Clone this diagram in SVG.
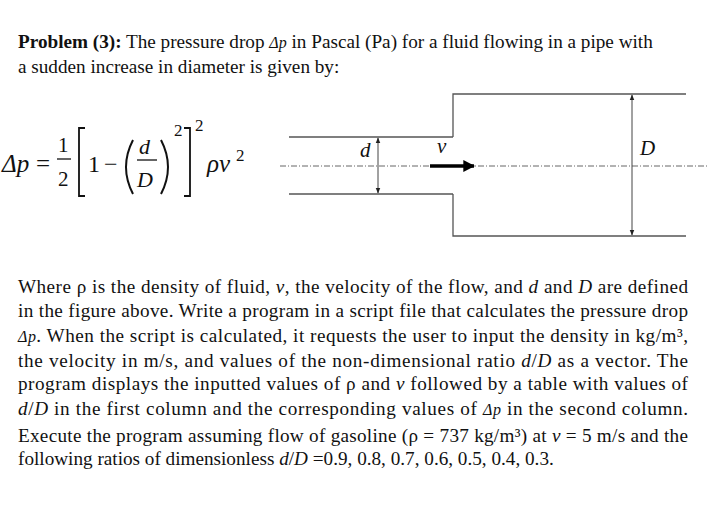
<svg xmlns="http://www.w3.org/2000/svg" width="708" height="505" viewBox="0 0 708 505">
<style>
.t{font-family:"Liberation Serif",serif;font-size:19.2px;fill:#111}
.m{font-family:"Liberation Serif",serif;font-style:italic;fill:#111}
.f{font-family:"Liberation Serif",serif;fill:#111}
.p{stroke:#555;stroke-width:1.3;fill:none}
</style>
<defs>
<marker id="ah" viewBox="0 0 10 10" refX="9" refY="5" markerWidth="6" markerHeight="6" orient="auto-start-reverse"><path d="M0,1 L10,5 L0,9 Z" fill="#222"/></marker>
<marker id="bh" viewBox="0 0 10 10" refX="9" refY="5" markerWidth="3.4" markerHeight="3.4" orient="auto"><path d="M0,0 L10,5 L0,10 Z" fill="#000"/></marker>
</defs>
<g id="title">
<text class="t" x="18" y="48"><tspan font-weight="bold">Problem (3):</tspan> The pressure drop <tspan font-style="italic" font-size="16">Δp</tspan> in Pascal (Pa) for a fluid flowing in a pipe with</text>
<text class="t" x="18" y="73">a sudden increase in diameter is given by:</text>
</g>
<g id="formula">
<text class="m" x="2" y="172" font-size="25">Δp</text>
<text class="f" x="36" y="172" font-size="25">=</text>
<text class="f" x="58" y="152" font-size="21">1</text>
<line x1="57" y1="159" x2="71" y2="159" stroke="#111" stroke-width="1.3"/>
<text class="f" x="58" y="186" font-size="21">2</text>
<path d="M85,128 H79 V196 H85" stroke="#111" stroke-width="1.8" fill="none"/>
<text class="f" x="88" y="172" font-size="24">1</text>
<text class="f" x="104" y="172" font-size="24">−</text>
<path d="M133,140 Q119,167 133,194" stroke="#111" stroke-width="2" fill="none"/>
<text class="m" x="139" y="154" font-size="22">d</text>
<line x1="137" y1="160" x2="157" y2="160" stroke="#111" stroke-width="1.3"/>
<text class="m" x="137" y="187" font-size="22">D</text>
<path d="M161,140 Q175,167 161,194" stroke="#111" stroke-width="2" fill="none"/>
<text class="f" x="174" y="136" font-size="17">2</text>
<path d="M184,128 H190 V196 H184" stroke="#111" stroke-width="1.8" fill="none"/>
<text class="f" x="195" y="131" font-size="17">2</text>
<text class="m" x="207" y="172" font-size="25">ρv</text>
<text class="f" x="236" y="161" font-size="17">2</text>
</g>
<g id="pipe">
<line class="p" x1="289" y1="137" x2="453" y2="137" stroke="#222"/>
<line class="p" x1="289" y1="194" x2="453" y2="194"/>
<path class="p" d="M453,137 V94 H686"/>
<path class="p" d="M453,194 V236 H686"/>
<line x1="280" y1="166" x2="708" y2="166" stroke="#666" stroke-width="1" stroke-dasharray="6,2,1,2"/>
</g>
<g id="connectors">
<line x1="378" y1="138" x2="378" y2="193" stroke="#444" stroke-width="1" marker-start="url(#ah)" marker-end="url(#ah)"/>
<line x1="632" y1="95" x2="632" y2="235" stroke="#444" stroke-width="1" marker-start="url(#ah)" marker-end="url(#ah)"/>
<line x1="430" y1="166" x2="474" y2="166" stroke="#000" stroke-width="3.5" marker-end="url(#bh)"/>
</g>
<g id="labels">
<text class="m" x="360" y="157" font-size="21">d</text>
<text class="m" x="437" y="153" font-size="21">v</text>
<text class="m" x="640" y="155" font-size="21">D</text>
</g>
<g id="body">
<text class="t" x="18" y="293" textLength="670" lengthAdjust="spacing">Where ρ is the density of fluid, <tspan font-style="italic">v</tspan>, the velocity of the flow, and <tspan font-style="italic">d</tspan> and <tspan font-style="italic">D</tspan> are defined</text>
<text class="t" x="18" y="317" textLength="670" lengthAdjust="spacing">in the figure above. Write a program in a script file that calculates the pressure drop</text>
<text class="t" x="18" y="342" textLength="670" lengthAdjust="spacing"><tspan font-style="italic" font-size="16">Δp</tspan>. When the script is calculated, it requests the user to input the density in kg/m³,</text>
<text class="t" x="18" y="367" textLength="670" lengthAdjust="spacing">the velocity in m/s, and values of the non-dimensional ratio <tspan font-style="italic">d</tspan>/<tspan font-style="italic">D</tspan> as a vector. The</text>
<text class="t" x="18" y="390" textLength="670" lengthAdjust="spacing">program displays the inputted values of ρ and <tspan font-style="italic">v</tspan> followed by a table with values of</text>
<text class="t" x="18" y="415" textLength="670" lengthAdjust="spacing"><tspan font-style="italic">d</tspan>/<tspan font-style="italic">D</tspan> in the first column and the corresponding values of <tspan font-style="italic" font-size="16">Δp</tspan> in the second column.</text>
<text class="t" x="18" y="442" textLength="670" lengthAdjust="spacing">Execute the program assuming flow of gasoline (ρ = 737 kg/m³) at <tspan font-style="italic">v</tspan> = 5 m/s and the</text>
<text class="t" x="18" y="465">following ratios of dimensionless <tspan font-style="italic">d</tspan>/<tspan font-style="italic">D</tspan> =0.9, 0.8, 0.7, 0.6, 0.5, 0.4, 0.3.</text>
</g>
</svg>
